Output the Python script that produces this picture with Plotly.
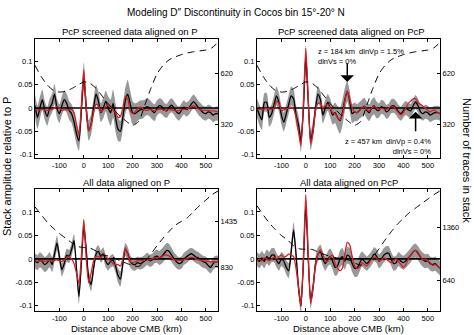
import plotly.graph_objects as go

# ---------------- data ----------------
dist = list(range(-200, 551, 10))          # km above CMB (stack samples)
dist_n = list(range(-200, 551, 25))        # km above CMB (trace counts)

# Top-left: PcP screened data aligned on P
tl_mean = [0.005, -0.02, 0.0, 0.018, -0.005, -0.018, 0.0, 0.01, 0.03, 0.0,
           -0.012, 0.005, 0.018, 0.01, -0.005, -0.012, -0.03, -0.055, -0.07, -0.005,
           0.068, 0.0, -0.048, -0.035, 0.0, 0.03, 0.015, -0.01, 0.0, 0.015,
           0.0, -0.01, 0.01, -0.02, -0.045, -0.05, -0.02, 0.015, 0.03, 0.01,
           -0.01, -0.012, -0.008, -0.004, -0.003, 0.0, 0.003, 0.0, -0.006, -0.01,
           0.0, 0.005, 0.003, -0.004, -0.006, 0.002, 0.006, 0.0, -0.008, -0.012,
           -0.005, 0.002, -0.003, 0.0, 0.008, 0.014, 0.008, 0.0, -0.005, -0.01,
           -0.012, -0.008, -0.01, -0.015, -0.012, -0.012]
tl_sd = [0.025, 0.025, 0.024, 0.022, 0.02, 0.02, 0.02, 0.02, 0.022, 0.02,
         0.02, 0.02, 0.02, 0.02, 0.02, 0.02, 0.022, 0.022, 0.022, 0.025,
         0.03, 0.025, 0.022, 0.022, 0.02, 0.02, 0.02, 0.02, 0.022, 0.022,
         0.025, 0.028, 0.03, 0.03, 0.025, 0.022, 0.025, 0.028, 0.03, 0.028,
         0.025, 0.022, 0.02, 0.02, 0.02, 0.018, 0.018, 0.018, 0.018, 0.018,
         0.016, 0.016, 0.016, 0.015, 0.015, 0.015, 0.015, 0.015, 0.015, 0.015,
         0.015, 0.015, 0.015, 0.015, 0.015, 0.015, 0.015, 0.015, 0.015, 0.015,
         0.015, 0.015, 0.015, 0.015, 0.015, 0.015]
tl_syn = [-0.003, -0.004, -0.004, -0.003, -0.004, -0.005, -0.004, -0.003, 0.0, 0.004,
          0.0, -0.005, -0.004, -0.004, -0.004, -0.003, -0.01, -0.035, -0.058, 0.005,
          0.082, 0.0, -0.05, -0.035, -0.01, 0.008, 0.005, -0.008, -0.004, 0.004,
          0.006, 0.002, -0.005, -0.01, -0.02, -0.018, 0.0, 0.025, 0.02, -0.005,
          -0.012, -0.008, -0.002, 0.002, 0.0, -0.004, -0.005, -0.003, -0.004, -0.006,
          -0.004, -0.002, -0.003, -0.005, -0.004, -0.003, -0.004, -0.005, -0.006, -0.005,
          -0.004, -0.003, -0.002, 0.0, 0.003, 0.005, 0.002, -0.002, -0.004, -0.005,
          -0.005, -0.005, -0.006, -0.006, -0.007, -0.008]
tl_count = [665, 600, 550, 518, 508, 512, 528, 548, 568, 560, 530, 485, 440, 400, 365, 335,
            312, 335, 430, 530, 615, 665, 698, 715, 728, 738, 745, 750, 755, 768, 800]

# Top-right: PcP screened data aligned on PcP
tr_mean = [0.0, -0.015, -0.025, 0.012, 0.012, -0.02, -0.012, 0.008, 0.026, 0.012,
           -0.015, -0.03, -0.012, 0.008, 0.026, 0.02, -0.015, -0.035, -0.072, -0.005,
           0.11, 0.015, -0.07, -0.045, 0.0, 0.03, 0.018, -0.015, 0.0, 0.012,
           0.0, -0.015, -0.01, -0.02, -0.027, -0.01, 0.018, 0.036, 0.015, -0.012,
           -0.008, -0.01, -0.005, 0.0, 0.004, -0.005, -0.01, 0.0, 0.005, -0.004,
           -0.005, 0.003, 0.0, -0.008, -0.005, 0.004, 0.005, 0.0, -0.008, -0.012,
           -0.005, 0.0, -0.004, -0.006, 0.005, 0.013, 0.005, -0.008, -0.012, -0.008,
           -0.01, -0.015, -0.012, -0.01, -0.01, -0.012]
tr_sd = [0.02, 0.022, 0.022, 0.02, 0.02, 0.02, 0.02, 0.02, 0.02, 0.02,
         0.02, 0.02, 0.02, 0.02, 0.02, 0.02, 0.02, 0.02, 0.022, 0.022,
         0.025, 0.022, 0.02, 0.02, 0.018, 0.018, 0.018, 0.018, 0.018, 0.018,
         0.02, 0.02, 0.022, 0.025, 0.028, 0.028, 0.025, 0.022, 0.022, 0.02,
         0.02, 0.018, 0.018, 0.018, 0.018, 0.018, 0.018, 0.018, 0.018, 0.018,
         0.015, 0.015, 0.015, 0.015, 0.015, 0.015, 0.015, 0.015, 0.015, 0.015,
         0.015, 0.015, 0.015, 0.015, 0.015, 0.015, 0.015, 0.015, 0.015, 0.015,
         0.015, 0.015, 0.015, 0.015, 0.015, 0.015]
tr_syn = [-0.003, -0.002, -0.003, -0.002, 0.0, -0.002, -0.003, 0.0, 0.015, 0.01,
          -0.005, -0.004, -0.002, 0.0, 0.002, -0.002, -0.02, -0.05, -0.08, 0.01,
          0.128, 0.02, -0.077, -0.05, -0.005, 0.01, 0.01, 0.0, 0.005, 0.008,
          0.0, -0.01, -0.012, -0.02, -0.025, -0.015, 0.015, 0.036, 0.02, 0.0,
          -0.008, -0.01, -0.005, 0.0, 0.003, -0.003, -0.006, 0.0, 0.004, 0.0,
          -0.003, 0.0, -0.002, -0.004, 0.0, 0.004, 0.003, -0.004, -0.01, -0.015,
          -0.01, 0.0, 0.01, 0.015, 0.02, 0.02, 0.012, 0.008, 0.004, 0.0,
          -0.005, -0.008, -0.005, -0.005, -0.01, -0.012]
tr_count = [665, 600, 550, 518, 508, 512, 528, 548, 568, 560, 530, 485, 440, 400, 365, 335,
            312, 335, 430, 530, 615, 665, 698, 715, 728, 738, 745, 750, 755, 768, 800]

# Bottom-left: All data aligned on P
bl_mean = [-0.004, -0.008, -0.002, -0.006, -0.012, -0.008, -0.002, -0.012, 0.01, 0.034,
           0.005, -0.023, -0.01, 0.008, 0.005, 0.02, 0.039, -0.02, -0.08, -0.01,
           0.07, 0.02, -0.04, -0.055, -0.02, 0.01, 0.016, 0.005, 0.012, -0.005,
           -0.012, -0.005, -0.003, -0.015, -0.035, -0.043, -0.01, 0.02, 0.012, -0.005,
           -0.011, -0.012, -0.008, -0.01, -0.008, -0.004, 0.0, -0.004, -0.002, 0.004,
           0.006, 0.002, 0.006, 0.012, 0.018, 0.016, 0.008, 0.0, -0.006, -0.01,
           -0.008, 0.0, 0.004, 0.008, 0.011, 0.008, 0.004, 0.002, -0.003, -0.006,
           -0.008, -0.014, -0.018, -0.01, -0.006, -0.006]
bl_sd = [0.016, 0.016, 0.016, 0.016, 0.016, 0.016, 0.016, 0.016, 0.016, 0.016,
         0.014, 0.014, 0.014, 0.014, 0.014, 0.014, 0.014, 0.014, 0.016, 0.016,
         0.016, 0.014, 0.014, 0.014, 0.013, 0.013, 0.013, 0.013, 0.013, 0.013,
         0.013, 0.013, 0.013, 0.014, 0.015, 0.016, 0.015, 0.014, 0.014, 0.013,
         0.013, 0.013, 0.013, 0.013, 0.013, 0.013, 0.013, 0.013, 0.013, 0.013,
         0.014, 0.015, 0.016, 0.016, 0.016, 0.016, 0.015, 0.014, 0.014, 0.013,
         0.013, 0.013, 0.013, 0.013, 0.013, 0.013, 0.013, 0.013, 0.013, 0.013,
         0.013, 0.013, 0.013, 0.013, 0.013, 0.013]
bl_syn = [-0.004, -0.005, -0.004, -0.004, -0.005, -0.004, -0.003, -0.004, -0.003, -0.002,
          -0.004, -0.005, -0.002, 0.002, 0.005, 0.0, -0.01, -0.03, -0.053, 0.005,
          0.083, 0.0, -0.05, -0.03, -0.005, 0.005, 0.005, 0.002, 0.012, 0.005,
          0.0, -0.004, -0.01, -0.012, -0.012, -0.015, 0.0, 0.024, 0.01, -0.005,
          -0.008, -0.006, -0.004, -0.003, -0.004, -0.003, -0.002, -0.002, 0.0, 0.002,
          0.002, 0.003, 0.005, 0.008, 0.008, 0.006, 0.002, -0.002, -0.003, -0.003,
          -0.003, -0.002, 0.0, 0.002, 0.004, 0.003, 0.0, -0.002, -0.003, -0.004,
          -0.005, -0.005, -0.006, -0.006, -0.006, -0.006]
bl_count = [1620, 1520, 1420, 1340, 1270, 1210, 1150, 1100, 1085, 1080, 1040, 990, 975, 950,
            910, 878, 850, 838, 900, 1000, 1110, 1210, 1300, 1380, 1430, 1480, 1560, 1640,
            1710, 1780, 1830]

# Bottom-right: All data aligned on PcP
br_mean = [0.0, -0.005, 0.002, -0.005, 0.005, 0.0, 0.008, 0.008, -0.003, -0.01,
           0.0, -0.005, -0.018, -0.025, 0.015, 0.062, 0.01, -0.06, -0.1, -0.01,
           0.115, 0.0, -0.09, -0.06, -0.01, 0.01, 0.015, 0.0, -0.01, 0.0,
           0.005, -0.005, -0.018, -0.015, 0.0, 0.005, -0.005, 0.008, 0.005, -0.01,
           -0.02, -0.02, -0.01, 0.0, -0.005, -0.01, -0.005, 0.002, 0.01, 0.006,
           -0.005, 0.0, 0.008, 0.012, 0.012, 0.0, -0.01, -0.008, 0.0, -0.005,
           -0.008, -0.004, 0.002, 0.008, 0.015, 0.018, 0.012, 0.004, -0.002, -0.005,
           -0.004, -0.01, -0.012, -0.01, -0.015, -0.02]
br_sd = [0.015, 0.015, 0.015, 0.015, 0.015, 0.015, 0.015, 0.015, 0.015, 0.015,
         0.015, 0.015, 0.015, 0.016, 0.016, 0.016, 0.016, 0.016, 0.018, 0.018,
         0.018, 0.016, 0.016, 0.015, 0.015, 0.015, 0.015, 0.015, 0.015, 0.016,
         0.017, 0.018, 0.018, 0.018, 0.018, 0.018, 0.018, 0.018, 0.018, 0.018,
         0.018, 0.018, 0.018, 0.016, 0.016, 0.015, 0.015, 0.015, 0.015, 0.015,
         0.015, 0.015, 0.015, 0.015, 0.015, 0.015, 0.015, 0.015, 0.015, 0.015,
         0.015, 0.015, 0.015, 0.015, 0.015, 0.015, 0.015, 0.015, 0.015, 0.015,
         0.015, 0.015, 0.015, 0.015, 0.015, 0.015]
br_syn = [-0.005, 0.0, -0.005, 0.002, 0.0, -0.004, 0.0, 0.004, 0.0, 0.005,
          0.008, 0.004, 0.006, 0.01, 0.008, 0.005, -0.02, -0.06, -0.1, 0.0,
          0.137, 0.01, -0.095, -0.06, -0.01, 0.01, 0.02, 0.01, -0.005, -0.005,
          0.005, 0.008, -0.01, -0.02, -0.025, -0.02, 0.01, 0.035, 0.03, 0.005,
          -0.015, -0.02, -0.018, -0.008, -0.012, -0.015, -0.008, 0.0, 0.004, 0.002,
          -0.004, -0.002, 0.002, 0.0, -0.005, -0.008, -0.004, 0.0, -0.006, -0.012,
          -0.018, -0.012, 0.0, 0.008, 0.015, 0.018, 0.014, 0.005, -0.002, 0.0,
          -0.004, -0.008, -0.014, -0.012, -0.015, -0.02]
br_count = [1650, 1530, 1420, 1330, 1250, 1190, 1110, 1070, 1065, 1062, 1030, 995, 970, 950,
            935, 920, 880, 850, 880, 960, 1070, 1190, 1300, 1400, 1480, 1560, 1620, 1680,
            1740, 1800, 1850]

titles = ["PcP screened data aligned on P", "PcP screened data aligned on PcP",
          "All data aligned on P", "All data aligned on PcP"]
amp_ticks = [-0.1, -0.05, 0, 0.05, 0.1]
amp_ticktext = ["-0.1", "-0.05", "0", "0.05", "0.1"]
dist_ticks = [-100, 0, 100, 200, 300, 400, 500]
dist_ticktext = ["-100", "0", "100", "200", "300", "400", "500"]
count_ticks = [[320, 620], [320, 620], [830, 1435], [640, 1360]]

panels = [
    (tl_mean, tl_sd, tl_syn, tl_count),
    (tr_mean, tr_sd, tr_syn, tr_count),
    (bl_mean, bl_sd, bl_syn, bl_count),
    (br_mean, br_sd, br_syn, br_count),
]

# ---------------- layout geometry (pixels in a 474x335 canvas) ----------------
W, H = 474, 335
px_x = [(35, 218), (257, 440), (35, 218), (257, 440)]
px_y = [(39, 158), (39, 158), (189, 311), (189, 311)]
amp_range = [[-0.107, 0.148], [-0.107, 0.148], [-0.111, 0.149], [-0.111, 0.149]]
count_range = [[120, 820], [120, 820], [251, 1856], [233, 1876]]

FONT = "Arial, 'Liberation Sans', Helvetica, sans-serif"
GRAY = "rgb(152,152,152)"
RED = "rgb(218,28,36)"
BLK = "black"

fig = go.Figure()
layout = dict(
    template="none",
    width=W, height=H, margin=dict(l=0, r=0, t=0, b=0),
    paper_bgcolor="white", plot_bgcolor="white", showlegend=False,
    font=dict(family=FONT, color=BLK, size=7.5),
)
annotations = []

for i, (mean, sd, syn, cnt) in enumerate(panels):
    xn = "x" if i == 0 else f"x{i + 1}"
    ya_n = f"y{2 * i + 1}"
    yb_n = f"y{2 * i + 2}"
    upper = [m + s for m, s in zip(mean, sd)]
    lower = [m - s for m, s in zip(mean, sd)]
    sp = dict(shape="spline", smoothing=0.6)
    fig.add_trace(go.Scatter(x=dist, y=upper, xaxis=xn, yaxis=ya_n, mode="lines",
                             line=dict(width=0, color=GRAY, **sp), hoverinfo="skip"))
    fig.add_trace(go.Scatter(x=dist, y=lower, xaxis=xn, yaxis=ya_n, mode="lines",
                             fill="tonexty", fillcolor=GRAY,
                             line=dict(width=0, color=GRAY, **sp), hoverinfo="skip"))
    fig.add_trace(go.Scatter(x=[dist[0], dist[-1]], y=[0, 0], xaxis=xn, yaxis=ya_n,
                             mode="lines", line=dict(width=1.6, color=BLK)))
    fig.add_trace(go.Scatter(x=dist, y=mean, xaxis=xn, yaxis=ya_n, mode="lines",
                             line=dict(width=1.3, color=BLK, **sp)))
    fig.add_trace(go.Scatter(x=dist, y=syn, xaxis=xn, yaxis=ya_n, mode="lines",
                             line=dict(width=1.3, color=RED, **sp)))
    fig.add_trace(go.Scatter(x=dist_n, y=cnt, xaxis=xn, yaxis=yb_n, mode="lines",
                             line=dict(width=1, color=BLK, dash="7px,5px",
                                       shape="spline", smoothing=0.6)))

    x0, x1 = px_x[i]
    y0, y1 = px_y[i]
    xdom = [x0 / W, x1 / W]
    ydom = [1 - y1 / H, 1 - y0 / H]
    axkey = "xaxis" if i == 0 else f"xaxis{i + 1}"
    common = dict(ticks="inside", ticklen=3, tickwidth=1, tickcolor=BLK,
                  showline=True, linecolor=BLK, linewidth=1,
                  showgrid=False, zeroline=False,
                  tickfont=dict(size=7.5, color=BLK, family=FONT))
    layout[axkey] = dict(domain=xdom, anchor=ya_n, range=[-200, 550],
                         tickvals=dist_ticks, ticktext=dist_ticktext,
                         mirror="ticks", **common)
    layout[f"yaxis{2 * i + 1}"] = dict(domain=ydom, anchor=xn, range=amp_range[i],
                                       tickvals=amp_ticks, ticktext=amp_ticktext,
                                       **common)
    layout[f"yaxis{2 * i + 2}"] = dict(overlaying=ya_n, side="right", anchor=xn,
                                       range=count_range[i], tickvals=count_ticks[i],
                                       ticktext=[str(v) for v in count_ticks[i]],
                                       **common)
    # subplot title
    tx = (x0 + x1) / 2 + (3 if i < 2 else 0)
    ty = 31.5 if i < 2 else 182.5
    annotations.append(dict(text=titles[i], xref="paper", yref="paper",
                            x=tx / W, y=1 - ty / H, showarrow=False,
                            xanchor="center", yanchor="middle",
                            font=dict(size=9.5, color=BLK, family=FONT)))

# main title
annotations.append(dict(text="Modeling D\u2033 Discontinuity in Cocos bin 15\u00b0-20\u00b0 N",
                        xref="paper", yref="paper", x=236 / W, y=1 - 12.5 / H,
                        showarrow=False, xanchor="center", yanchor="middle",
                        font=dict(size=10, color=BLK, family=FONT)))
# axis labels
for cx in (126.5, 348.5):
    annotations.append(dict(text="Distance above CMB (km)", xref="paper", yref="paper",
                            x=cx / W, y=1 - 328 / H, showarrow=False,
                            xanchor="center", yanchor="middle",
                            font=dict(size=9.5, color=BLK, family=FONT)))
annotations.append(dict(text="Stack amplitude relative to P", xref="paper", yref="paper",
                        x=7 / W, y=1 - 167 / H, textangle=-90, showarrow=False,
                        xanchor="center", yanchor="middle",
                        font=dict(size=11, color=BLK, family=FONT)))
annotations.append(dict(text="Number of traces in stack", xref="paper", yref="paper",
                        x=467 / W, y=1 - 160 / H, textangle=90, showarrow=False,
                        xanchor="center", yanchor="middle",
                        font=dict(size=11, color=BLK, family=FONT)))

# model annotations (top-right panel)
annotations.append(dict(text="z = 184 km  dlnVp = 1.5%<br>dlnVs = 0%", xref="paper",
                        yref="paper", x=316 / W, y=1 - 44.5 / H, showarrow=False,
                        xanchor="left", yanchor="top", align="left",
                        font=dict(size=7.5, color=BLK, family=FONT)))
annotations.append(dict(text="z = 457 km  dlnVp = 0.4%<br>dlnVs = 0%", xref="paper",
                        yref="paper", x=433 / W, y=1 - 135 / H, showarrow=False,
                        xanchor="right", yanchor="top", align="right",
                        font=dict(size=7.5, color=BLK, family=FONT)))
annotations.append(dict(text="", xref="x2", yref="y3", x=170, y=0.056, ax=0, ay=-20,
                        showarrow=True, arrowhead=1, arrowsize=1.5, arrowwidth=1.5,
                        arrowcolor=BLK))
annotations.append(dict(text="", xref="x2", yref="y3", x=450, y=-0.008, ax=0, ay=21,
                        showarrow=True, arrowhead=1, arrowsize=1.5, arrowwidth=1.5,
                        arrowcolor=BLK))

layout["annotations"] = annotations
fig.update_layout(**layout)
fig.write_html("out.html")
